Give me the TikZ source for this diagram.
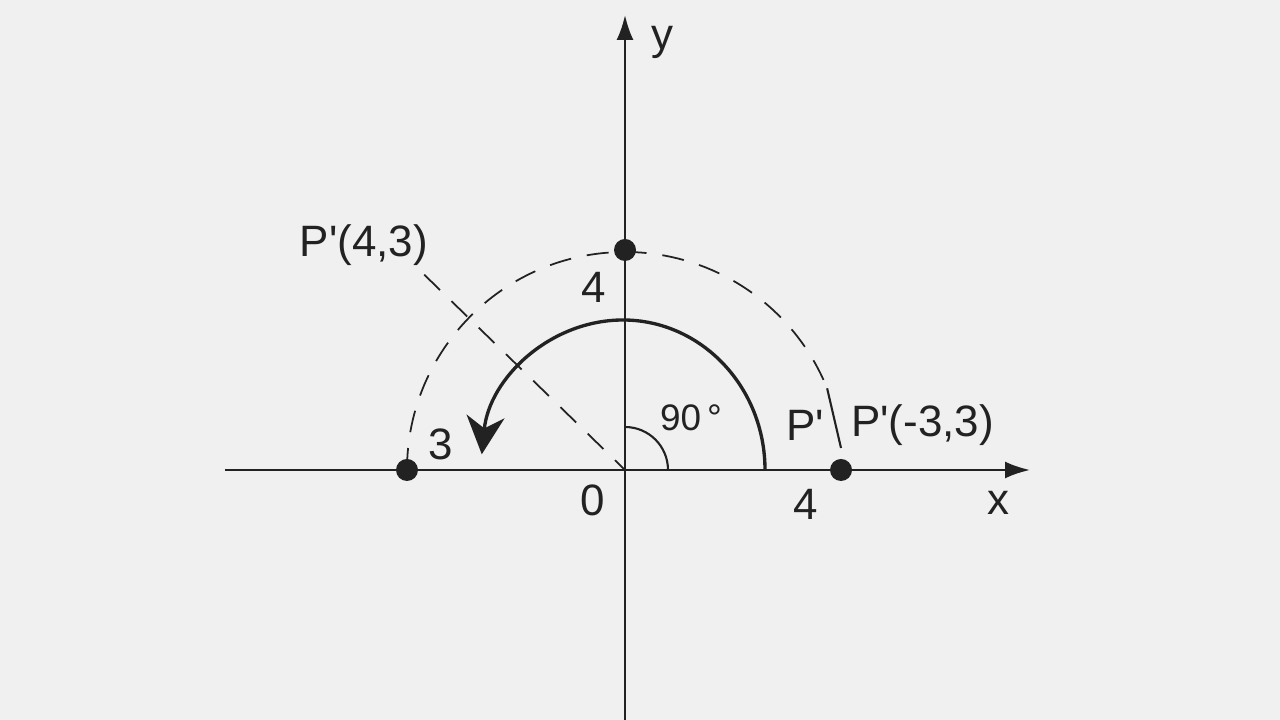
\documentclass[tikz,border=0pt]{standalone}
\usepackage{fontspec}
\setmainfont{Liberation Sans}
\usetikzlibrary{positioning, arrows.meta, calc}
\definecolor{paper}{HTML}{F0F0F0}
\definecolor{ink}{HTML}{222222}
\newcommand\pq{\textquotesingle}

\begin{document}
\begin{tikzpicture}[
    >=Latex,
    % Styles
    axis/.style={
        -{Latex[length=2.5mm, width=1.7mm]},
        line width=0.7pt,
        draw=ink
    },
    dot/.style={
        circle,
        fill=ink,
        inner sep=0pt,
        minimum size=2.2mm
    },
    lbl/.style={
        text=ink,
        font=\fontsize{12.5}{15}\selectfont,
        inner sep=1pt
    },
    guide/.style={
        dashed,
        dash pattern=on 2.2mm off 1.6mm,
        line width=0.5pt,
        draw=ink
    },
    turn/.style={
        line width=0.95pt,
        draw=ink
    }
]
    \useasboundingbox[fill=paper] (-6.25,-2.5) rectangle (6.55,4.7);

    % Axes
    \coordinate (O) at (0,0);
    \coordinate (xl) at (-4.0,0);
    \coordinate (xr) at (4.05,0);
    \coordinate (yb) at (0,-2.5);
    \coordinate (yt) at (0,4.55);
    \draw[axis] (xl) -- (xr);
    \draw[axis] (yb) -- (yt);
    \node[lbl] (xname) at (3.73,-0.33) {x};
    \node[lbl] (yname) at (0.37,4.28) {y};

    % Ticks
    \node[lbl] (zero) at (-0.32,-0.30) {0};
    \node[lbl] (xfour) at (1.81,-0.34) {4};
    \node[lbl] (yfour) at (-0.31,1.83) {4};
    \node[lbl] (three) at (-1.84,0.26) {3};

    % Points
    \node[dot] (A) at (-2.18,0) {};
    \node[dot] (B) at (0,2.2) {};
    \node[dot] (C) at (2.16,0) {};

    % Dashed circle
    \draw[guide] (A.center) arc[start angle=180, end angle=22, radius=2.18]
        coordinate (arcend);
    \draw[line width=0.6pt, draw=ink] (arcend) -- ($(C.center)+(0,0.22)$);

    % Labels
    \node[lbl] (P1) at (-2.61,2.25) {P\pq(4,3)};
    \node[lbl] (P2) at (1.80,0.45) {P\pq};
    \node[lbl, anchor=west] (P3) at (2.22,0.45) {P\pq(-3,3)};
    \draw[guide] (P1.south east) ++(-0.08,-0.05) coordinate (ps) -- (O);

    % Rotation
    \draw[turn, -{Stealth[length=3.8mm, width=3.8mm, inset=1.2mm]}]
        (1.4,0) arc[start angle=0, end angle=174, x radius=1.42, y radius=1.5];
    \draw[line width=0.6pt, draw=ink] (0.43,0) arc[start angle=0, end angle=90, radius=0.43];
    \node[text=ink, font=\fontsize{10.5}{12}\selectfont] (ang) at (0.66,0.52) {90\,°};
\end{tikzpicture}
\end{document}
